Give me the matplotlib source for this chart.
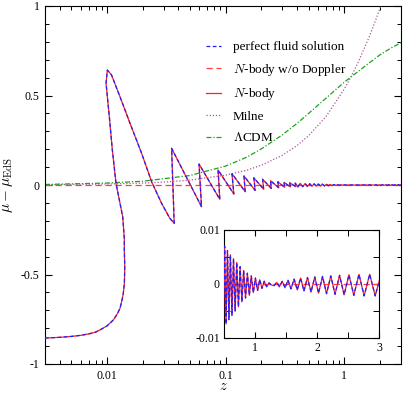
import matplotlib
matplotlib.use("Agg")
import matplotlib.pyplot as plt
from matplotlib.ticker import MultipleLocator, LogLocator, FixedLocator, NullFormatter

plt.rcParams['font.family'] = ['Liberation Serif', 'DejaVu Serif']
plt.rcParams['mathtext.fontset'] = 'cm'
plt.rcParams['axes.unicode_minus'] = False

# perfect fluid solution (z is not monotonic along the ray)
z_fluid = [0.0030, 0.0040, 0.0050, 0.0060, 0.0070, 0.0080, 0.0087, 0.0100, 0.0113, 0.0122,
           0.01286, 0.01340, 0.01371, 0.01400, 0.01410, 0.01398, 0.01398, 0.01355, 0.0119,
           0.01108, 0.01045, 0.00981, 0.01006, 0.0109, 0.01286, 0.01561, 0.01956, 0.02374,
           0.0288, 0.0338, 0.0368,
           0.0350, 0.0625, 0.0596, 0.0892, 0.0862, 0.1170, 0.1130, 0.1459, 0.1425, 0.1770,
           0.1726, 0.2090, 0.2046, 0.2420, 0.2384, 0.2790, 0.2750, 0.3140, 0.3103, 0.3510,
           0.3470, 0.3890,
           0.3853, 0.4053, 0.4252, 0.4461, 0.4669, 0.4887, 0.5104, 0.5332, 0.5559, 0.5797,
           0.6035, 0.6284, 0.6532, 0.6793, 0.7053, 0.7326, 0.7599, 0.7885, 0.8171, 0.8471,
           0.8771, 0.9086, 0.9401, 0.9732, 1.0063, 1.0411, 1.0759, 1.1126, 1.1492, 1.1878,
           1.2264, 1.2671, 1.3078, 1.3508, 1.3937, 1.4391, 1.4844, 1.5324, 1.5803, 1.6311,
           1.6819, 1.7357, 1.7895, 1.8466, 1.9036, 1.9642, 2.0248, 2.0893, 2.1537, 2.2223,
           2.2909, 2.3641, 2.4372, 2.5153, 2.5933, 2.6768, 2.7602, 2.8495, 2.9388, 3.0346,
           3.1303]
mu_fluid = [-0.855, -0.851, -0.846, -0.840, -0.832, -0.822, -0.810, -0.787, -0.754, -0.720,
            -0.689, -0.640, -0.605, -0.549, -0.456, -0.363, -0.300, -0.177, 0.009,
            0.196, 0.382, 0.568, 0.642, 0.615, 0.493, 0.345, 0.177, 0.018,
            -0.102, -0.186, -0.214,
            0.205, -0.121, 0.117, -0.080, 0.084, -0.050, 0.063, -0.037, 0.050, -0.030,
            0.040, -0.024, 0.032, -0.019, 0.024, -0.015, 0.018, -0.013, 0.015, -0.011,
            0.0125, -0.0095,
            0.0105, -0.0105, 0.0092, -0.0094, 0.0080, -0.0082, 0.0070, -0.0074, 0.0062, -0.0066,
            0.0054, -0.0058, 0.0047, -0.0050, 0.0040, -0.0042, 0.0032, -0.0033, 0.0025, -0.0026,
            0.0020, -0.0021, 0.0015, -0.0016, 0.0011, -0.0012, 0.0008, -0.0008, 0.0005, -0.0005,
            0.0002, -0.0002, -0.0003, 0.0003, -0.0005, 0.0005, -0.0007, 0.0007, -0.0009, 0.0009,
            -0.0011, 0.0011, -0.0013, 0.0012, -0.0015, 0.0013, -0.0017, 0.0014, -0.0018, 0.0015,
            -0.0019, 0.0016, -0.0020, 0.0017, -0.0021, 0.0018, -0.0022, 0.0018, -0.0022, 0.0019,
            -0.0023]

# N-body follows the perfect fluid solution within the reading accuracy
z_nbody = list(z_fluid)
mu_nbody = list(mu_fluid)

# N-body without Doppler terms
z_nodop = [0.003, 0.01, 0.03, 0.1, 0.3, 1.0, 3.0]
mu_nodop = [0.0, 0.0, 0.0, 0.0, 0.0, 0.0, 0.0]

# Milne
z_milne = [0.003, 0.01, 0.02, 0.03, 0.05, 0.1, 0.15, 0.2, 0.3, 0.4, 0.5, 0.7, 1.0, 1.15,
           1.3, 1.6, 1.8, 2.0, 2.2]
mu_milne = [0.0016, 0.0054, 0.0107, 0.0162, 0.0273, 0.0548, 0.0825, 0.1103, 0.1659, 0.2210,
            0.2756, 0.3826, 0.5367, 0.6106, 0.6823, 0.8193, 0.9063, 0.9897, 1.070]

# LambdaCDM
z_lcdm = [0.003, 0.01, 0.02, 0.05, 0.1, 0.15, 0.2, 0.3, 0.4, 0.5, 0.7, 1.0, 1.5, 2.0, 2.5, 3.0]
mu_lcdm = [0.003, 0.011, 0.021, 0.053, 0.106, 0.155, 0.202, 0.280, 0.345, 0.400, 0.485,
           0.575, 0.665, 0.728, 0.767, 0.795]

fig = plt.figure(figsize=(4.15, 3.94), dpi=100)
ax = fig.add_axes([45 / 415, 1 - 364 / 394, 356 / 415, 358 / 394])


def draw(a):
    a.plot(z_nbody, mu_nbody, color='#ff2020', lw=0.9, zorder=3)
    a.plot(z_nodop, mu_nodop, color='#ff4040', lw=0.9, dashes=(5, 3), zorder=2)
    a.plot(z_fluid, mu_fluid, color='#2020ff', lw=0.9, dashes=(3, 2), zorder=4)


ax.plot([], [], color='#2020ff', lw=0.9, dashes=(3, 2), label='perfect fluid solution')
ax.plot([], [], color='#ff4040', lw=0.9, dashes=(5, 3), label=r'$N$-body w/o Doppler')
ax.plot([], [], color='#ff2020', lw=0.9, label=r'$N$-body')
draw(ax)
ax.plot(z_milne, mu_milne, color='#a8589a', lw=0.9, dashes=(1, 1.5), label='Milne', zorder=2)
ax.plot(z_lcdm, mu_lcdm, color='#20a020', lw=0.9, dashes=(4, 1.5, 1, 1.5),
        label=r'$\Lambda$CDM', zorder=2)

ax.set_xscale('log')
ax.set_xlim(0.003, 3)
ax.set_ylim(-1, 1)
ax.xaxis.set_major_locator(FixedLocator([0.01, 0.1, 1]))
ax.set_xticklabels(['0.01', '0.1', '1'])
ax.xaxis.set_minor_locator(LogLocator(base=10, subs=range(2, 10)))
ax.xaxis.set_minor_formatter(NullFormatter())
ax.set_yticks([-1, -0.5, 0, 0.5, 1])
ax.set_yticklabels(['-1', '-0.5', '0', '0.5', '1'])
ax.yaxis.set_minor_locator(MultipleLocator(0.1))
ax.tick_params(which='both', direction='in', top=True, right=True, labelsize=8.5, pad=4)
ax.tick_params(which='major', length=5, width=0.8)
ax.tick_params(which='minor', length=3, width=0.7)
ax.set_xlabel(r'$z$', fontsize=10.5)
ax.xaxis.set_label_coords(0.5, -0.045)
ax.set_ylabel(r'$\mu - \mu_{\rm EdS}$', fontsize=11)
ax.yaxis.set_label_coords(-0.085, 0.5)

ax.legend(loc='upper left', bbox_to_anchor=(0.42, 0.935), frameon=False, fontsize=9.5,
          handlelength=1.1, handletextpad=0.9, labelspacing=0.64)

ins = fig.add_axes([224 / 415, 1 - 338 / 394, 155 / 415, 108 / 394])
draw(ins)
ins.set_xlim(0.5, 3)
ins.set_ylim(-0.01, 0.01)
ins.xaxis.set_major_locator(MultipleLocator(1))
ins.xaxis.set_minor_locator(MultipleLocator(0.5))
ins.set_yticks([-0.01, 0, 0.01])
ins.set_yticklabels(['-0.01', '0', '0.01'])
ins.yaxis.set_minor_locator(MultipleLocator(0.005))
ins.tick_params(which='both', direction='in', top=True, right=True, labelsize=8.5, pad=3)
ins.tick_params(which='major', length=4, width=0.8)
ins.tick_params(which='minor', length=4, width=0.7)

fig.savefig('out.png', dpi=100)
